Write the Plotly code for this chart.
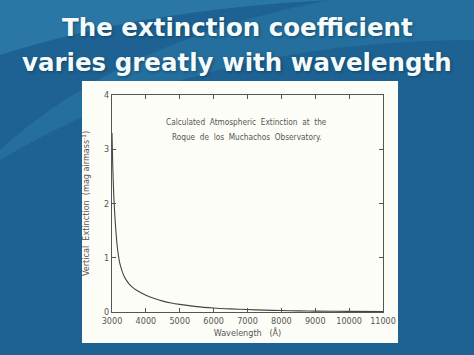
import plotly.graph_objects as go

# ---- data ----
wavelength = [3000, 3020, 3040, 3060, 3090, 3120, 3150, 3185, 3220, 3260, 3300, 3350, 3400,
              3500, 3600, 3750, 4000, 4250, 4500, 4750, 5000, 5500, 6000, 6500, 7000,
              7500, 8000, 8500, 9000, 10000, 11000]
extinction = [3.3, 2.75, 2.35, 2.05, 1.72, 1.45, 1.24, 1.06, 0.93, 0.83, 0.75, 0.67, 0.61,
              0.52, 0.46, 0.39, 0.31, 0.25, 0.20, 0.165, 0.14, 0.10, 0.075, 0.058, 0.045,
              0.035, 0.027, 0.02, 0.016, 0.012, 0.01]
x_ticks = [3000, 4000, 5000, 6000, 7000, 8000, 9000, 10000, 11000]
x_tick_labels = ["3000", "4000", "5000", "6000", "7000", "8000", "9000", "10000", "11000"]
y_ticks = [0, 1, 2, 3, 4]

title_lines = ["The extinction coefficient", "varies greatly with wavelength"]
inner_title = ["Calculated  Atmospheric  Extinction  at  the",
               "Roque  de  los  Muchachos  Observatory."]

W, H = 474, 355
L, R, T, B = 112, 383, 95, 312


def px(x):
    return (x - L) / (R - L)


def py(y):
    return (B - y) / (B - T)


scan_font = "DejaVu Sans Condensed, Liberation Sans Narrow, DejaVu Sans, sans-serif"
ink = "#555555"

fig = go.Figure()
fig.add_trace(go.Scatter(
    x=wavelength, y=extinction, mode="lines",
    line=dict(color="#444444", width=1.1, shape="spline", smoothing=0.8),
    hoverinfo="skip", showlegend=False))

shapes = [
    # lighter swoosh at top-left
    dict(type="path", xref="paper", yref="paper", layer="below",
         path=f"M {px(0)},{py(55)} Q {px(140)},{py(10)} {px(330)},{py(0)} L {px(0)},{py(0)} Z",
         fillcolor="rgba(70,160,200,0.35)", line=dict(width=0)),
    dict(type="path", xref="paper", yref="paper", layer="below",
         path=f"M {px(0)},{py(150)} Q {px(120)},{py(40)} {px(330)},{py(0)} L {px(474)},{py(0)} L {px(474)},{py(40)} Q {px(200)},{py(40)} {px(0)},{py(160)} Z",
         fillcolor="rgba(60,150,195,0.25)", line=dict(width=0)),
    # white scanned figure box
    dict(type="rect", xref="paper", yref="paper", layer="below",
         x0=px(82), x1=px(398), y0=py(343), y1=py(81),
         fillcolor="#fdfdf8", line=dict(width=0)),
]

anns = []
for text, yy in zip(title_lines, [28, 63]):
    anns.append(dict(text=text, xref="paper", yref="paper",
                     x=px(237), y=py(yy), xanchor="center", yanchor="middle",
                     showarrow=False,
                     font=dict(family="DejaVu Sans, Open Sans, sans-serif", size=24.5,
                               color="#f4fbfd", weight="bold",
                               shadow="1px 1px 3px rgba(0,0,0,0.35)")))
for text, yy in zip(inner_title, [122, 137]):
    anns.append(dict(text=text, xref="paper", yref="paper", x=px(246), y=py(yy),
                     xanchor="center", yanchor="middle", showarrow=False,
                     font=dict(family=scan_font, size=8.2, color=ink)))

fig.update_layout(
    width=W, height=H,
    margin=dict(l=L, r=W - R, t=T, b=H - B),
    paper_bgcolor="#1d6292",
    plot_bgcolor="rgba(0,0,0,0)",
    shapes=shapes,
    annotations=anns,
    xaxis=dict(range=[3000, 11000], tickvals=x_ticks, ticktext=x_tick_labels,
               ticks="inside", ticklen=4,
               tickcolor=ink, showline=True, linecolor=ink, linewidth=1, mirror="ticks",
               showgrid=False, zeroline=False,
               tickfont=dict(family=scan_font, size=9, color=ink),
               title=dict(text="Wavelength   (Å)", standoff=4,
                          font=dict(family=scan_font, size=9, color=ink))),
    yaxis=dict(range=[0, 4], tickvals=y_ticks, ticks="inside", ticklen=4,
               tickcolor=ink, showline=True, linecolor=ink, linewidth=1, mirror="ticks",
               showgrid=False, zeroline=False,
               tickfont=dict(family=scan_font, size=9, color=ink),
               title=dict(text="Vertical  Extinction  (mag airmass<sup>-1</sup>)", standoff=12,
                          font=dict(family=scan_font, size=9, color=ink))),
)

fig.write_html("out.html", config={"displayModeBar": False},
               post_script="document.body.style.margin='0';document.body.style.overflow='hidden';")
